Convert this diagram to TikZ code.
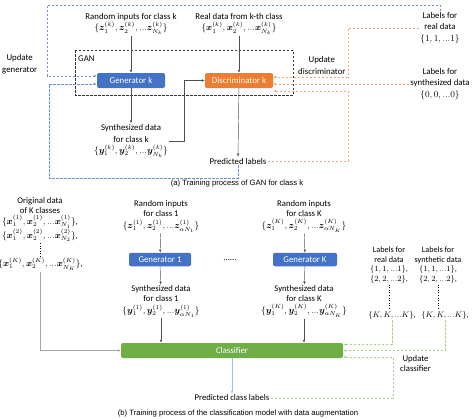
\documentclass[tikz,border=0pt]{standalone}
\usepackage{amsmath}
\usepackage{amssymb}
\usepackage{bm}
\usepackage{fontspec}
\setmainfont{Carlito}
\newfontfamily\capfont{Liberation Sans}
\usetikzlibrary{arrows.meta}
\definecolor{genblue}{HTML}{4472C4}
\definecolor{disorange}{HTML}{ED7D31}
\definecolor{clsgreen}{HTML}{70AD47}
\definecolor{arrgray}{HTML}{505050}
\definecolor{linegray}{HTML}{A6A6A6}
\definecolor{bdash}{HTML}{6F8FCF}
\definecolor{odash}{HTML}{F4A577}
\definecolor{gdash}{HTML}{A9D18E}
\definecolor{predblue}{HTML}{9DC3E6}
\newcommand{\dts}{{...}}

\begin{document}
\begin{tikzpicture}[x=1pt,y=-1pt,every text node part/.style={align=center},
txt/.style={font=\fontsize{8.8}{11.5}\selectfont, inner sep=1pt},
txtb/.style={font=\fontsize{8.7}{9.9}\selectfont, inner sep=1pt},
lbltxt/.style={font=\fontsize{8.2}{9.7}\selectfont, inner sep=1pt},
captxt/.style={font=\capfont\fontsize{7.7}{9}\selectfont, inner sep=1pt},
blk/.style={rounded corners=2pt, text=white, minimum height=15pt, inner sep=0pt, font=\fontsize{8.8}{10}\selectfont},
arrtip/.style={-{Latex[length=3pt,width=2.5pt]}},
arr/.style={draw=arrgray, line width=0.45pt, arrtip},
bupd/.style={draw=bdash, line width=0.6pt, dash pattern=on 2.5pt off 1.5pt},
oupd/.style={draw=odash, line width=0.6pt, dash pattern=on 2.5pt off 1.5pt},
gupd/.style={draw=gdash, line width=0.6pt, dash pattern=on 2.5pt off 1.5pt},
gandash/.style={draw=black!80, line width=0.7pt, dash pattern=on 2.5pt off 1.5pt}]
\useasboundingbox (0,0) rectangle (474,418);

% (a) GAN for class k
\node[txt] (rin) at (131,24) {Random inputs for class k\\$\{\bm{z}_1^{(k)},\bm{z}_2^{(k)},\dts\bm{z}_{N_k}^{(k)}\}$};
\node[txt] (real) at (239,24) {Real data from k-th class\\$\{\bm{x}_1^{(k)},\bm{x}_2^{(k)},\dts\bm{x}_{N_k}^{(k)}\}$};
\node[blk, fill=genblue, minimum width=68pt] (gen) at (131,80.5) {Generator k};
\node[blk, fill=disorange, minimum width=68pt] (dis) at (239,80.5) {Discriminator k};
\draw[gandash] (75,50) rectangle (293,95);
\node[txt, anchor=west] (gan) at (77,59) {GAN};
\node[txt] (syn) at (131,141) {Synthesized data\\for class k\\$\{\bm{y}_1^{(k)},\bm{y}_2^{(k)},\dts\bm{y}_{N_k}^{(k)}\}$};
\node[txt] (pred) at (238,161) {Predicted labels};
\node[txt] (lreal) at (440,28) {Labels for\\real data\\$\{1,1,\dts1\}$};
\node[txt] (lsyn) at (440,84) {Labels for\\synthesized data\\$\{0,0,\dts0\}$};
\node[txt, align=left, anchor=west] (updd) at (297,65.5) {Update\\discriminator};
\node[txt, align=left, anchor=west] (updg) at (1,64) {Update\\generator};
\node[captxt] (capa) at (237,184) {(a) Training process of GAN for class k};

\coordinate (gtop) at (47,5);
\coordinate (gbot) at (49,178);
\coordinate (o1) at (348,77);
\coordinate (o2) at (348,91);

\draw[arr] (rin) -- (gen);
\draw[arr] (real) -- (dis);
\draw[arr] (gen) -- (syn);
\draw[arr] (syn.east) -- ++(15,0) |- (dis.west);
\draw[arr] (dis) -- (pred);
\draw[bupd, arrtip] (lreal.north) |- (gtop) |- ([yshift=4.5pt]gen.west);
\draw[bupd, arrtip] (pred.south) |- (gbot) |- ([yshift=-3.5pt]gen.west);
\draw[oupd, arrtip] (lreal.west) -| (o1) -- (o1 -| dis.east);
\draw[oupd, arrtip] (lsyn.west) -- (lsyn.west -| dis.east);
\draw[oupd, arrtip] (pred.east) -| (o2) -- (o2 -| dis.east);

% (b) classifier with data augmentation
\node[txtb] (orig) at (40,219.5) {Original data\\of K classes\\[1.5pt]$\{\bm{x}_1^{(1)},\bm{x}_2^{(1)},\dts\bm{x}_{N_1}^{(1)}\}$,\\$\{\bm{x}_1^{(2)},\bm{x}_2^{(2)},\dts\bm{x}_{N_2}^{(2)}\}$,};
\node[txtb] (origk) at (40.5,264) {$\{\bm{x}_1^{(K)},\bm{x}_2^{(K)},\dts\bm{x}_{N_K}^{(K)}\}$,};
\draw[dotted, line width=0.6pt] (orig.south) -- (orig.south |- origk.north);
\node[txtb] (rin1) at (161,216.5) {Random inputs\\for class 1\\[2pt]$\{\bm{z}_1^{(1)},\bm{z}_2^{(1)},\dts\bm{z}_{\alpha N_1}^{(1)}\}$};
\node[blk, fill=genblue, minimum width=62pt, minimum height=13.5pt] (gen1) at (160,259.5) {Generator 1};
\node[txtb] (syn1) at (161,301.5) {Synthesized data\\for class 1\\[2pt]$\{\bm{y}_1^{(1)},\bm{y}_2^{(1)},\dts\bm{y}_{\alpha N_1}^{(1)}\}$};
\node[txtb] (gdots) at (230,260) {......};
\node[txtb] (rink) at (304,216.5) {Random inputs\\for class K\\[2pt]$\{\bm{z}_1^{(K)},\bm{z}_2^{(K)},\dts\bm{z}_{\alpha N_K}^{(K)}\}$};
\node[blk, fill=genblue, minimum width=64pt, minimum height=13.5pt] (genk) at (305,259.5) {Generator K};
\node[txtb] (synk) at (304,301.5) {Synthesized data\\for class K\\[2pt]$\{\bm{y}_1^{(K)},\bm{y}_2^{(K)},\dts\bm{y}_{\alpha N_K}^{(K)}\}$};
\node[lbltxt] (lblr) at (389,265) {Labels for\\real data\\$\{1,1,\dts1\}$,\\$\{2,2,\dts2\}$,};
\node[lbltxt] (lblrk) at (392,315) {$\{K,K,\dts K\}$,};
\draw[dotted, line width=0.6pt] (lblr.south) -- (lblr.south |- lblrk.north);
\node[lbltxt] (lbls) at (438,265) {Labels for\\synthetic data\\$\{1,1,\dts1\}$,\\$\{2,2,\dts2\}$,};
\node[lbltxt] (lblsk) at (445,315) {$\{K,K,\dts K\}$,};
\draw[dotted, line width=0.6pt] (lbls.south) -- (lbls.south |- lblsk.north);
\node[blk, fill=clsgreen, minimum width=222pt, minimum height=15pt] (cls) at (232,350.5) {Classifier};
\node[txtb] (predc) at (232,398) {Predicted class labels};
\node[txtb, align=left, anchor=west] (updc) at (399,363.5) {Update\\classifier};
\node[captxt] (capb) at (238,414) {(b) Training process of the classification model with data augmentation};

\coordinate (c3) at (393,357);

\draw[arr] (rin1) -- (gen1);
\draw[arr] (gen1) -- (syn1);
\draw[arr] (syn1.south) -- (syn1.south |- cls.north);
\draw[arr] (rink) -- (genk);
\draw[arr] (genk) -- (synk);
\draw[arr] (synk.south) -- (synk.south |- cls.north);
\draw[arr, draw=linegray] (origk.south) |- (cls.west);
\draw[arr, draw=predblue] (cls) -- (predc);
\draw[gupd, arrtip] (lblrk.south) |- ([yshift=6pt]cls.east);
\draw[gupd, arrtip] (lblsk.south) |- (cls.east);
\draw[gupd, arrtip] (predc.east) -| (c3) -- (c3 -| cls.east);
\end{tikzpicture}
\end{document}
